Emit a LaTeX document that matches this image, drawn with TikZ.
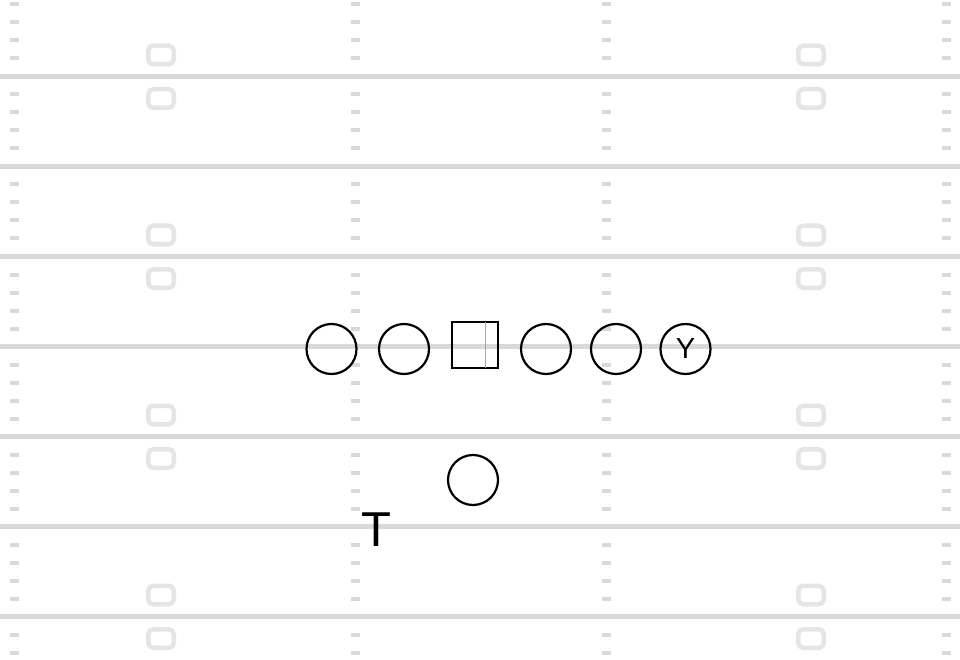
\documentclass[tikz,border=0pt]{standalone}
\usepackage{fontspec}
\setmainfont{Liberation Sans}
\begin{document}
\begin{tikzpicture}[x=1pt,y=-1pt,
  yardline/.style={draw=black!15,line width=5.5pt},
  hashmark/.style={fill=black!15,draw=none},
  numbox/.style={draw=black!10,line width=4.5pt,rounded corners=5pt},
  player/.style={circle,draw=black,line width=2.2pt,minimum size=50pt,inner sep=0pt},
  centerbox/.style={rectangle,draw=black,line width=2.2pt,minimum size=46pt,inner sep=0pt},
  label/.style={inner sep=0pt,anchor=base}]
\useasboundingbox (0,0) rectangle (960,660);
\clip (0,0) rectangle (960,660);
\fill[white] (0,0) rectangle (960,660);
% yard lines
\foreach \j in {0,...,6}{
  \draw[yardline] (0,76.5+90*\j) -- (960,76.5+90*\j);
}
% hash marks
\foreach \j in {0,...,7}{
  \foreach \i in {1,2,3,4}{
    \foreach \xx in {10,350.5,602,941.5}{
      \fill[hashmark] (\xx,-15.5+90*\j+18*\i) rectangle ++(9,4);
    }
  }
}
% number placeholders
\foreach \j in {0,1,2,3}{
  \foreach \xx in {161,811}{
    \draw[numbox] (\xx-12.75,55-9.25+180*\j) rectangle ++(25.5,18.5);
    \draw[numbox] (\xx-12.75,98.5-9.25+180*\j) rectangle ++(25.5,18.5);
  }
}
% players
\node[player] (lt) at (331.5,349) {};
\node[player] (lg) at (404,349) {};
\node[centerbox] (c) at (475,345) {};
\draw[black!35,line width=1pt] (485.5,322) -- (485.5,368);
\node[player] (rg) at (546,349) {};
\node[player] (rt) at (616,349) {};
\node[player] (y) at (685.5,349) {};
\node[label,font=\fontsize{29}{29}\selectfont] (ylab) at (685.5,358.3) {Y};
\node[player] (qb) at (473,480) {};
\node[label,font=\fontsize{49}{49}\selectfont] (t) at (376,546) {T};
\end{tikzpicture}
\end{document}
